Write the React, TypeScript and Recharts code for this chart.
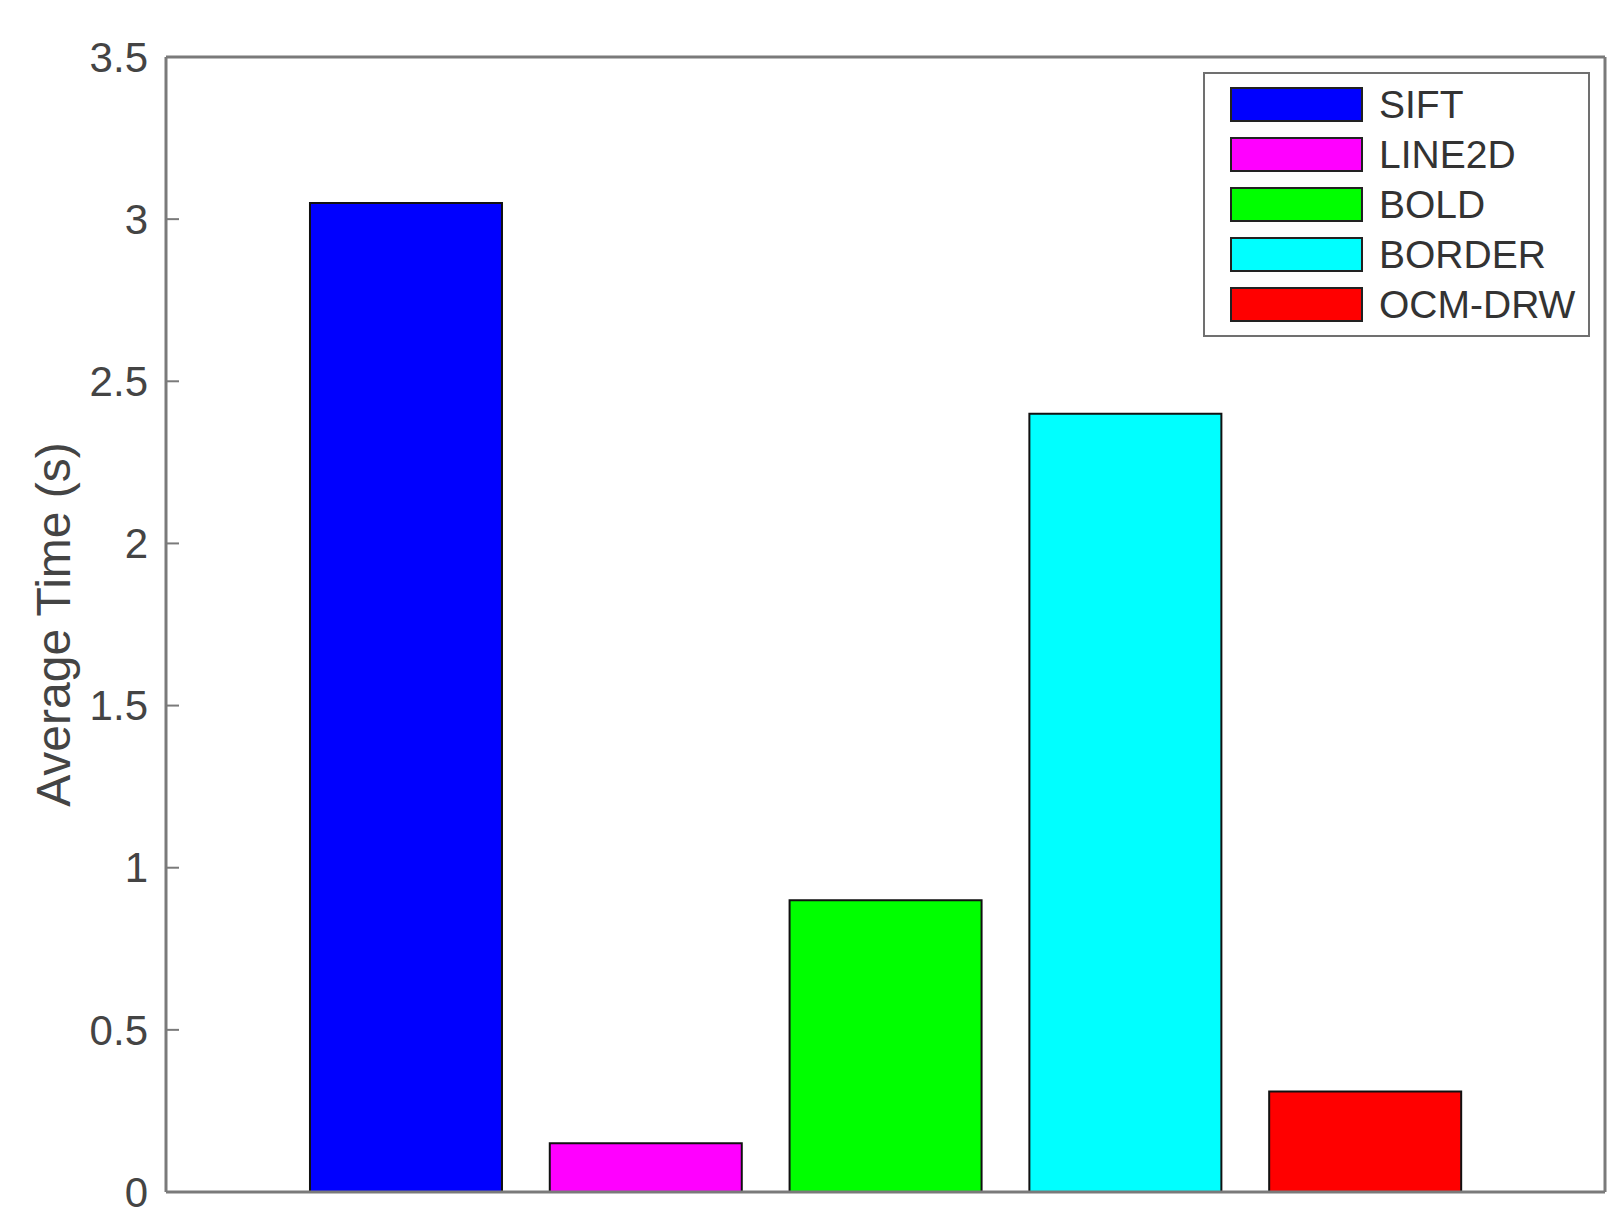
import React from 'react';
import { BarChart, Bar, Cell, XAxis, YAxis, ReferenceLine, Legend } from 'recharts';

const methods = ['SIFT', 'LINE2D', 'BOLD', 'BORDER', 'OCM-DRW'];
const avgTime = [3.05, 0.15, 0.9, 2.4, 0.31];
const barColors = ['#0000ff', '#ff00ff', '#00ff00', '#00ffff', '#ff0000'];
const yTicks = [0, 0.5, 1, 1.5, 2, 2.5, 3, 3.5];

const data = methods.map((m, i) => ({ method: m, time: avgTime[i] }));

const font = '"Liberation Sans", Arial, sans-serif';
const axisGray = '#7a7a7a';
const labelGap = 18;
const tickLen = 13;

// label outside the box plus a short tick pointing into the plot
function LeftTick(props: any) {
  const { x, y, payload } = props;
  const ax = x + labelGap;
  return (
    <g>
      <text x={x} y={y} dy="0.35em" textAnchor="end" fill="#444" fontSize={42} fontFamily={font}>
        {payload.value}
      </text>
      <line x1={ax} x2={ax + tickLen} y1={y} y2={y} stroke={axisGray} strokeWidth={2} />
    </g>
  );
}

function RightTick(props: any) {
  const { x, y } = props;
  return <line x1={x - tickLen} x2={x} y1={y} y2={y} stroke={axisGray} strokeWidth={2} />;
}

function LegendBox() {
  return (
    <div
      style={{
        position: 'relative',
        width: 383,
        height: 261,
        border: '2px solid #707070',
        background: '#fff',
        fontFamily: font,
      }}
    >
      {methods.map((m, i) => (
        <div
          key={m}
          style={{
            position: 'absolute',
            left: 25,
            top: 13 + i * 50,
            height: 35,
            display: 'flex',
            alignItems: 'center',
          }}
        >
          <div style={{ width: 129, height: 31, background: barColors[i], border: '2px solid #222' }} />
          <span style={{ marginLeft: 16, fontSize: 39, color: '#333', lineHeight: '35px' }}>{m}</span>
        </div>
      ))}
    </div>
  );
}

export default function App() {
  return (
    <div style={{ position: 'absolute', left: 0, top: 0, width: 1622, height: 1215, background: '#fff' }}>
      <BarChart
        width={1622}
        height={1215}
        data={data}
        margin={{ top: 57, right: 0, bottom: 0, left: 0 }}
        barCategoryGap="10%"
      >
        <XAxis
          dataKey="method"
          height={23}
          tick={false}
          tickLine={false}
          axisLine={{ stroke: axisGray, strokeWidth: 3 }}
          padding={{ left: 120, right: 120 }}
        />
        <YAxis
          width={166}
          domain={[0, 3.5]}
          ticks={yTicks}
          interval={0}
          tickSize={0}
          tickMargin={labelGap}
          tickLine={false}
          axisLine={{ stroke: axisGray, strokeWidth: 3 }}
          tick={<LeftTick />}
          label={{
            value: 'Average Time (s)',
            angle: -90,
            position: 'insideLeft',
            offset: 53,
            style: { textAnchor: 'middle', fontSize: 48, fill: '#444', fontFamily: font },
          }}
        />
        <YAxis
          yAxisId="right"
          orientation="right"
          width={17}
          domain={[0, 3.5]}
          ticks={yTicks}
          interval={0}
          tickSize={0}
          tickMargin={0}
          tickLine={false}
          axisLine={{ stroke: axisGray, strokeWidth: 3 }}
          tick={<RightTick />}
        />
        <ReferenceLine y={3.5} stroke={axisGray} strokeWidth={3} />
        <Legend
          layout="vertical"
          align="center"
          verticalAlign="middle"
          content={() => <LegendBox />}
          wrapperStyle={{ left: 1203, top: 72, width: 387, height: 265 }}
        />
        <Bar dataKey="time" isAnimationActive={false} stroke="#111" strokeWidth={2}>
          {data.map((d, i) => (
            <Cell key={d.method} fill={barColors[i]} />
          ))}
        </Bar>
      </BarChart>
    </div>
  );
}
